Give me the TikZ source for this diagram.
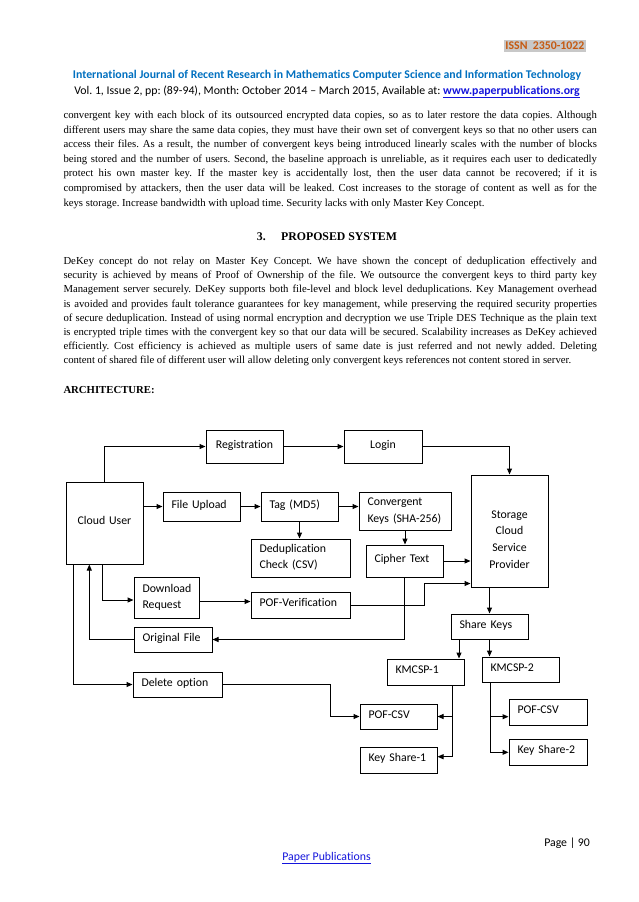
\documentclass[tikz,border=0pt]{standalone}
\usepackage{fontspec}
\setmainfont{Liberation Serif}
\newfontfamily\calfont[Ligatures={NoCommon}]{Carlito}
\usetikzlibrary{arrows.meta}
\definecolor{jblue}{RGB}{0,112,192}
\definecolor{lblue}{RGB}{20,20,220}
\definecolor{issntxt}{RGB}{197,90,17}
\definecolor{issnbg}{RGB}{200,200,200}
\newlength\tw \setlength\tw{533.4pt}
\newcommand\jline[1]{\makebox[\tw][s]{#1}}
\newcommand\pl[3]{\node[body] (#1) at (63.3,#2) {\jline{#3}};}
\newcommand\pe[3]{\node[body] (#1) at (63.3,#2) {#3};}
\newcommand\mkbox[7][]{%
 \pgfmathsetmacro\mbW{#5-#3-17}\pgfmathsetmacro\mbH{#6-#4}%
 \pgfmathsetmacro\mbX{(#3+#5)/2}\pgfmathsetmacro\mbY{(#4+#6)/2}%
 \node[bx,#1,text width=\mbW pt,minimum height=\mbH pt] (#2) at (\mbX,\mbY) {#7};}
\frenchspacing
\begin{document}
\begin{tikzpicture}[x=1pt,y=-1pt,
  body/.style={font=\fontsize{10.72}{12}\selectfont, inner sep=0pt, anchor=base west},
  bx/.style={draw, line width=1pt, font=\calfont\fontsize{11.8}{16.6}\selectfont, inner xsep=8.5pt, inner ysep=0pt, align=left},
  one/.style={text height=8pt, text depth=5pt},
  arr/.style={line width=1pt, -{Triangle[length=6pt,width=5pt]}},
  ln/.style={line width=1pt},
  cal/.style={font=\calfont\fontsize{11.8}{14}\selectfont, inner sep=0pt}]
\useasboundingbox (0,0) rectangle (638,902);
\fill[white] (0,0) rectangle (638,902);
% header
\node[fill=issnbg, font=\calfont\bfseries\fontsize{11.8}{12}\selectfont, text=issntxt, inner xsep=1.5pt, inner ysep=2pt, anchor=east] (issn) at (586,46) {ISSN\ \ 2350-1022};
\node[font=\calfont\bfseries\fontsize{11.8}{14}\selectfont, text=jblue, anchor=base, inner sep=0pt] (jt) at (327,78) {International Journal of Recent Research in Mathematics Computer Science and Information Technology};
\node[font=\calfont\fontsize{11.8}{14}\selectfont, anchor=base, inner sep=0pt] (vol) at (327,94) {Vol. 1, Issue 2, pp: (89-94), Month: October 2014 – March 2015, Available at: \textcolor{lblue}{\bfseries\underline{www.paperpublications.org}}};
% paragraph 1
\pl{a1}{118.5}{convergent key with each block of its outsourced encrypted data copies, so as to later restore the data copies. Although}
\pl{a2}{133.1}{different users may share the same data copies, they must have their own set of convergent keys so that no other users can}
\pl{a3}{147.7}{access their files. As a result, the number of convergent keys being introduced linearly scales with the number of blocks}
\pl{a4}{162.3}{being stored and the number of users. Second, the baseline approach is unreliable, as it requires each user to dedicatedly}
\pl{a5}{176.9}{protect his own master key. If the master key is accidentally lost, then the user data cannot be recovered; if it is}
\pl{a6}{191.5}{compromised by attackers, then the user data will be leaked. Cost increases to the storage of content as well as for the}
\pe{a7}{206.1}{keys storage. Increase bandwidth with upload time. Security lacks with only Master Key Concept.}
% heading
\node[font=\bfseries\fontsize{11.8}{13}\selectfont, inner sep=0pt, anchor=base west] (h3) at (256.7,240.5) {\makebox[24.3pt][l]{3.}PROPOSED SYSTEM};
% paragraph 2
\pl{b1}{264.5}{DeKey concept do not relay on Master Key Concept. We have shown the concept of deduplication effectively and}
\pl{b2}{278.7}{security is achieved by means of Proof of Ownership of the file. We outsource the convergent keys to third party key}
\pl{b3}{292.9}{Management server securely. DeKey supports both file-level and block level deduplications. Key Management overhead}
\pl{b4}{307.1}{is avoided and provides fault tolerance guarantees for key management, while preserving the required security properties}
\pl{b5}{321.3}{of secure deduplication. Instead of using normal encryption and decryption we use Triple DES Technique as the plain text}
\pl{b6}{335.5}{is encrypted triple times with the convergent key so that our data will be secured. Scalability increases as DeKey achieved}
\pl{b7}{349.7}{efficiently. Cost efficiency is achieved as multiple users of same date is just referred and not newly added. Deleting}
\pe{b8}{363.9}{content of shared file of different user will allow deleting only convergent keys references not content stored in server.}
\node[body, font=\bfseries\fontsize{10.72}{12}\selectfont] (arch) at (63.3,393) {ARCHITECTURE:};
% boxes
\mkbox[align=center,one]{reg}{206}{430}{283}{463}{Registration}
\mkbox[align=center,one]{login}{344}{430}{422}{463}{Login}
\mkbox[align=center,one]{cu}{66}{482}{143}{564}{Cloud User}
\mkbox[one]{fu}{163}{492}{240}{521}{File Upload}
\mkbox[one]{tag}{261}{492}{338}{521}{Tag (MD5)}
\mkbox{conv}{359}{492}{451}{530}{Convergent\\Keys (SHA-256)}
\mkbox[align=center]{scsp}{471}{475}{548}{587}{\mbox{}\\[8pt]Storage\\Cloud\\Service\\Provider}
\mkbox{dedup}{251}{539}{350}{577}{\mbox{}\\[-10pt]Deduplication\\Check (CSV)}
\mkbox[one]{cipher}{366}{545}{443}{577}{Cipher Text}
\mkbox{dl}{134}{577}{199}{618}{Download\\Request}
\mkbox[one]{pofv}{251}{592}{350}{618}{POF-Verification}
\mkbox[one]{of}{134}{627}{212}{652}{Original File}
\mkbox[one]{del}{133}{672}{222}{697}{Delete option}
\mkbox[one]{sk}{451}{614}{528}{639}{Share Keys}
\mkbox[one]{k1}{387}{659}{464}{685}{KMCSP-1}
\mkbox[one]{k2}{482}{657}{559}{682}{KMCSP-2}
\mkbox[one]{pc1}{360}{704}{437}{729}{POF-CSV}
\mkbox[one]{ks1}{360}{747}{437}{773}{Key Share-1}
\mkbox[one]{pc2}{509}{699}{587}{725}{POF-CSV}
\mkbox[one]{ks2}{509}{739}{587}{765}{Key Share-2}
% connectors
\draw[arr] (cu.north) |- (reg.west);
\draw[arr] (reg.east) -- (login.west);
\draw[arr] (login.east) -| (scsp.north);
\draw[arr] (cu.east |- fu.west) -- (fu.west);
\draw[arr] (fu.east) -- (tag.west);
\draw[arr] (tag.east) -- (tag.east -| conv.west);
\draw[arr] (tag.south) -- (dedup.north -| tag.south);
\draw[arr] (conv.south) -- (cipher.north -| conv.south);
\draw[arr] (cipher.east) -- (cipher.east -| scsp.west);
\coordinate (pv1) at (424,605);
\coordinate (pv2) at (424,583.5);
\draw[arr] (pofv.east) -- (pv1) -- (pv2) -- (pv2 -| scsp.west);
\draw[arr] (cipher.south) |- (of.east);
\coordinate (ofl) at (89.3,639.5);
\draw[arr] (of.west) -- (ofl) -- (ofl |- cu.south);
\draw[arr] (cu.south -| 102.3,0) |- (dl.west |- 0,600);
\draw[arr] (dl.east |- 0,601.5) -- (pofv.west |- 0,601.5);
\draw[arr] (cu.south -| 73.3,0) |- (del.west);
\coordinate (dc) at (330,716.5);
\draw[arr] (del.east) -| (dc) -- (pc1.west);
\draw[arr] (scsp.south -| sk.north) -- (sk.north);
\draw[arr] (sk.south -| 459,0) -- (k1.north -| 459,0);
\draw[arr] (sk.south) -- (sk.south |- k2.north);
\coordinate (k1a) at (452.3,716.5);
\coordinate (k1b) at (452.3,756.7);
\draw[ln] (k1.south -| k1b) -- (k1b);
\draw[arr] (k1a) -- (pc1.east);
\draw[arr] (k1b) -- (ks1.east |- k1b);
\coordinate (k2a) at (490,716.7);
\coordinate (k2b) at (490,752.3);
\draw[ln] (k2.south -| k2b) -- (k2b);
\draw[arr] (k2a) -- (pc2.west |- k2a);
\draw[arr] (k2b) -- (ks2.west |- k2b);
% footer
\node[cal, anchor=base east] (pg) at (590,846) {Page | 90};
\node[cal, text=lblue, anchor=base] (pp) at (326.5,860) {\underline{Paper Publications}};
\end{tikzpicture}
\end{document}
